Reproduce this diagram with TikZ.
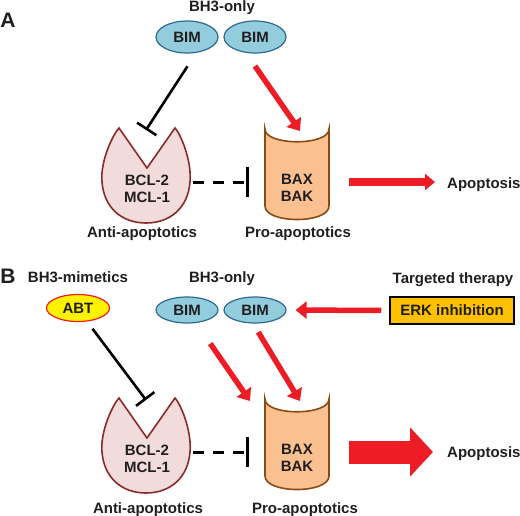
\documentclass[tikz,border=0pt]{standalone}
\usepackage{fontspec}
\setmainfont{Liberation Sans}
\usepackage{tikz}
\usetikzlibrary{shapes.geometric,arrows.meta}
\definecolor{bimfill}{HTML}{93CDDD}
\definecolor{bimedge}{HTML}{2E6A90}
\definecolor{antifill}{HTML}{F2DCDB}
\definecolor{antiedge}{HTML}{8B2A2A}
\definecolor{profill}{HTML}{FAC090}
\definecolor{proedge}{HTML}{8B4A14}
\definecolor{actred}{HTML}{EE1C24}
\definecolor{erkfill}{HTML}{FFC000}
\tikzstyle{txt} = [font=\bfseries\fontsize{15}{17.5}\selectfont,text=black!88,inner sep=0pt]
\tikzstyle{panel} = [txt,font=\bfseries\fontsize{21}{21}\selectfont,anchor=base]
\tikzstyle{bim} = [ellipse,draw=bimedge,fill=bimfill,line width=1.2pt,minimum width=62pt,txt]
\tikzstyle{inhib} = [line width=2.6pt,-{Bar[width=23pt,line width=2.6pt]}]
\tikzstyle{dinhib} = [line width=3pt,dash pattern=on 11pt off 9pt,-{Bar[width=30pt,line width=3pt]}]
\tikzstyle{act} = [draw=actred,line width=5.5pt,-{Triangle[length=11pt,width=17pt]}]
\newcommand{\antiapo}[2]{%
  \begin{scope}[shift={(0,#2)}]
    \draw[draw=antiedge,fill=antifill,line width=1.6pt](147,168)--(119,128)..controls(114,133)and(100,160)..(102,182)
      ..controls(104,208)and(122,223)..(146,223)..controls(170,223)and(188,208)..(190,182)
      ..controls(192,160)and(180,133)..(175,128)--cycle;
    \coordinate(#1-slot)at(146,130);
    \coordinate(#1-e)at(193,182);
    \node[txt,align=center](#1)at(147,189){BCL-2\\MCL-1};
  \end{scope}}
\newcommand{\proapo}[2]{%
  \begin{scope}[shift={(0,#2)}]
    \draw[draw=proedge,fill=profill,line width=1.6pt](265,129)--(265,206)..controls(265,224)and(329,224)..(329,206)
      --(329,129)..controls(329,146)and(265,146)..cycle;
    \coordinate(#1-w)at(249,182);
    \coordinate(#1-top)at(300,131);
    \coordinate(#1-tl)at(250,131);
    \coordinate(#1-e)at(349,182);
    \node[txt,align=center](#1)at(297,188){BAX\\BAK};
  \end{scope}}
\begin{document}
\begin{tikzpicture}[x=1pt,y=-1pt]
  \useasboundingbox(0,0)rectangle(520,515);
  % A
  \node[panel](labA)at(8,27){A};
  \node[txt,anchor=base](bh3A)at(222,11){BH3-only};
  \node[bim,minimum height=32pt](bimA1)at(187,37){BIM};
  \node[bim,minimum height=32pt](bimA2)at(255,37){BIM};
  \antiapo{antiA}{0}
  \proapo{proA}{0}
  \node[txt,anchor=base](antilabA)at(142,237){Anti-apoptotics};
  \node[txt,anchor=base](prolabA)at(298,237){Pro-apoptotics};
  \node[txt,anchor=base west](apoA)at(447,188){Apoptosis};
  \draw[inhib,shorten <=16pt](bimA1.-60)--(antiA-slot);
  \draw[act,shorten <=16pt](bimA2.-120)--(proA-top);
  \draw[dinhib](antiA-e)--(proA-w);
  \draw[draw=actred,line width=8pt,-{Triangle[length=10pt,width=16pt]},shorten >=12pt](proA-e)--(proA-e-|apoA.west);
  % B
  \node[panel](labB)at(8,283){B};
  \node[txt,anchor=base](mimB)at(78,282){BH3-mimetics};
  \node[txt,anchor=base](bh3B)at(222,282){BH3-only};
  \node[txt,anchor=base](tgtB)at(453,283){Targeted therapy};
  \node[ellipse,draw=actred,fill=yellow,line width=1.2pt,minimum width=63pt,minimum height=27pt,txt](abt)at(78,308){ABT};
  \node[bim,minimum height=26pt](bimB1)at(187,310){BIM};
  \node[bim,minimum height=26pt](bimB2)at(255,310){BIM};
  \node[draw=black,fill=erkfill,line width=1.5pt,minimum width=124pt,minimum height=27pt,txt](erk)at(452,310.5){ERK inhibition};
  \antiapo{antiB}{270}
  \proapo{proB}{270}
  \node[txt,anchor=base](antilabB)at(148,513){Anti-apoptotics};
  \node[txt,anchor=base](prolabB)at(305,513){Pro-apoptotics};
  \node[txt,anchor=base west](apoB)at(447,457){Apoptosis};
  \draw[inhib,shorten <=9pt](abt.-56)--(antiB-slot);
  \draw[act,shorten <=25pt](bimB1)--(proB-tl);
  \draw[act,shorten <=10pt](bimB2.-98)--(proB-top);
  \draw[act,shorten <=8pt,shorten >=9pt](erk.west)--(bimB2.east);
  \draw[dinhib](antiB-e)--(proB-w);
  \draw[draw=actred,line width=23pt,-{Triangle[length=23pt,width=48pt]},shorten >=14pt](proB-e)--(proB-e-|apoB.west);
\end{tikzpicture}
\end{document}
